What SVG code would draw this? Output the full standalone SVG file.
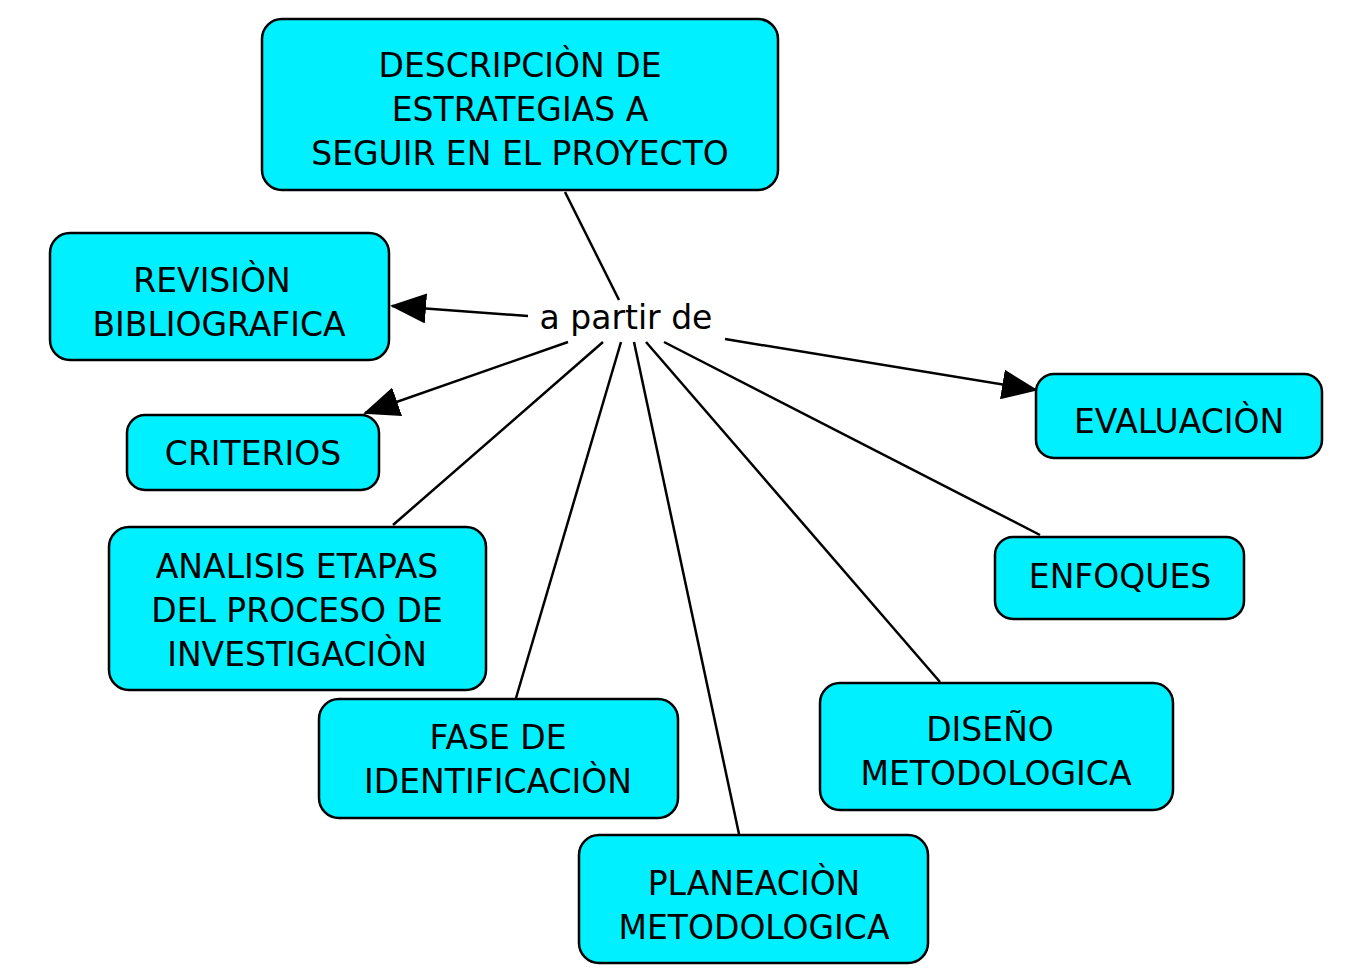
<svg xmlns="http://www.w3.org/2000/svg" width="1347" height="977" viewBox="0 0 1347 977">
<style>
.n rect{fill:#00f0ff;stroke:#000;stroke-width:2.5}
.n text,.l{font-family:"DejaVu Sans",Verdana,sans-serif;font-size:33px;fill:#000;text-anchor:middle}
.c line{stroke:#000;stroke-width:2.5}
</style>
<defs><marker id="a" markerWidth="12" markerHeight="10" refX="11" refY="5" orient="auto" markerUnits="userSpaceOnUse" viewBox="0 0 12 10"><path d="M0,0L12,5L0,10z" fill="#000"/></marker>
<marker id="b" viewBox="0 0 36 30" markerWidth="36" markerHeight="30" refX="34" refY="15" orient="auto" markerUnits="userSpaceOnUse"><path d="M0,0L36,15L0,30z" fill="#000"/></marker></defs>
<rect width="1347" height="977" fill="#fff"/>
<g class="c">
<line x1="565" y1="192" x2="619" y2="300"/>
<line x1="528" y1="316" x2="392" y2="306" marker-end="url(#b)"/>
<line x1="568" y1="342" x2="365" y2="413" marker-end="url(#b)"/>
<line x1="603" y1="342" x2="393" y2="525"/>
<line x1="621" y1="342" x2="516" y2="698"/>
<line x1="634" y1="342" x2="739" y2="834"/>
<line x1="646" y1="342" x2="940" y2="682"/>
<line x1="664" y1="342" x2="1040" y2="535"/>
<line x1="725" y1="339" x2="1036" y2="390" marker-end="url(#b)"/>
</g>
<text class="l" x="626" y="329">a partir de</text>
<g class="n" id="n1"><rect x="262" y="19" width="516" height="171" rx="20"/><text x="520" y="77">DESCRIPCIÒN DE</text><text x="520" y="121">ESTRATEGIAS A</text><text x="520" y="165">SEGUIR EN EL PROYECTO</text></g>
<g class="n" id="n2"><rect x="50" y="233" width="339" height="127" rx="20"/><text x="212" y="292">REVISIÒN</text><text x="219" y="336">BIBLIOGRAFICA</text></g>
<g class="n" id="n3"><rect x="127" y="415" width="252" height="75" rx="18"/><text x="253" y="465">CRITERIOS</text></g>
<g class="n" id="n4"><rect x="109" y="527" width="377" height="163" rx="20"/><text x="297" y="578">ANALISIS ETAPAS</text><text x="297" y="622">DEL PROCESO DE</text><text x="297" y="666">INVESTIGACIÒN</text></g>
<g class="n" id="n5"><rect x="319" y="699" width="359" height="119" rx="20"/><text x="498" y="749">FASE DE</text><text x="498" y="793">IDENTIFICACIÒN</text></g>
<g class="n" id="n6"><rect x="579" y="835" width="349" height="128" rx="20"/><text x="754" y="895">PLANEACIÒN</text><text x="754" y="939">METODOLOGICA</text></g>
<g class="n" id="n7"><rect x="820" y="683" width="353" height="127" rx="20"/><text x="990" y="741">DISEÑO</text><text x="996" y="785">METODOLOGICA</text></g>
<g class="n" id="n8"><rect x="995" y="537" width="249" height="82" rx="18"/><text x="1120" y="588">ENFOQUES</text></g>
<g class="n" id="n9"><rect x="1036" y="374" width="286" height="84" rx="18"/><text x="1179" y="433">EVALUACIÒN</text></g>
</svg>
